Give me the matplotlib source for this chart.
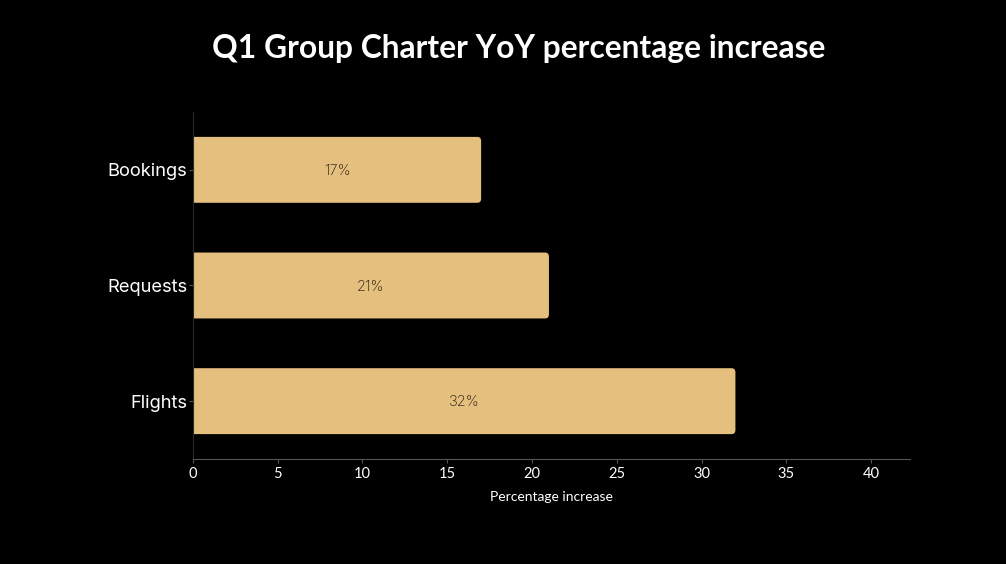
import matplotlib
matplotlib.use('Agg')
import matplotlib.pyplot as plt
from matplotlib.patches import FancyBboxPatch

categories = ['Flights', 'Requests', 'Bookings']
values     = [32, 21, 17]
xticks     = [0, 5, 10, 15, 20, 25, 30, 35, 40]

BAR_COL = '#E5BF7E'
TXT_DARK = '#22180A'

fig = plt.figure(figsize=(10.06, 5.64), dpi=100)
fig.patch.set_facecolor('black')
ax = fig.add_axes([0.1918, 0.1862, 0.7128, 0.6152])
ax.set_facecolor('black')

ypos = list(range(len(categories)))
bars = ax.barh(ypos, values, height=0.57, color=BAR_COL)

# swap bars for rounded-right-corner versions (left side clipped at x=0)
x_px = 717 / 42.3
y_px = 347 / 3.0
rad_x = 4.0 / x_px
rad_y = 4.0 / y_px
for b in bars:
    b.set_visible(False)
    x0, y0 = b.get_x(), b.get_y()
    w, h = b.get_width(), b.get_height()
    p = FancyBboxPatch((x0 - 1, y0), w + 1, h,
                       boxstyle=f'round,pad=0,rounding_size={rad_x}',
                       mutation_aspect=rad_y / rad_x,
                       facecolor=BAR_COL, edgecolor='none', zorder=2)
    ax.add_patch(p)

for y, v in zip(ypos, values):
    ax.text(v / 2, y - 0.01, f'{v}%', ha='center', va='center',
            color=TXT_DARK, fontsize=10.5, family='Inter', fontweight='light', zorder=3)

ax.set_xlim(0, 42.3)
ax.set_ylim(-0.5, 2.5)
ax.set_xticks(xticks)
ax.set_xticklabels([str(t) for t in xticks], family='Lato', fontsize=10.5, color='white')
ax.set_yticks(ypos)
ax.set_yticklabels(categories, family='Inter', fontsize=13.2, color='white')
ax.tick_params(axis='x', length=3, color='#555555', pad=3)
ax.tick_params(axis='y', length=3, color='#555555', pad=1)

for s in ['top', 'right']:
    ax.spines[s].set_visible(False)
ax.spines['bottom'].set_color('#555555')
ax.spines['bottom'].set_linewidth(0.8)
ax.spines['left'].set_color('#2a2a2a')
ax.spines['left'].set_linewidth(0.8)

ax.set_xlabel('Percentage increase', family='Lato', fontsize=10, color='white', labelpad=7)

fig.text(0.516, 0.914, 'Q1 Group Charter YoY percentage increase', ha='center', va='center',
         family='Lato', fontweight='bold', fontsize=22.9, color='white')

fig.savefig('out.png', dpi=100, facecolor='black')
